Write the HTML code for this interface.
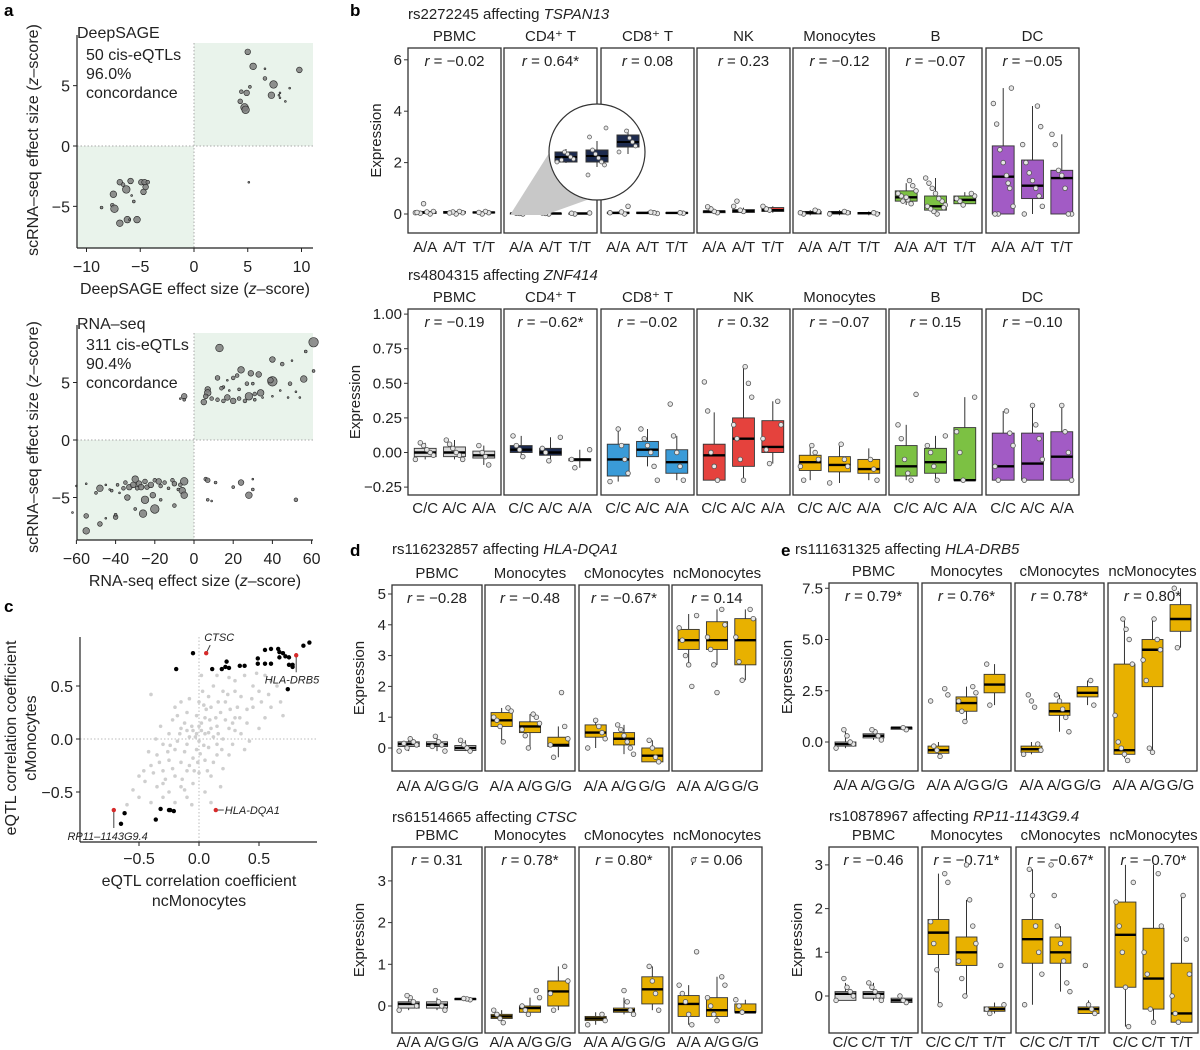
<!DOCTYPE html>
<html><head><meta charset="utf-8"><style>
html,body{margin:0;padding:0;background:#fff}
svg{display:block;font-family:"Liberation Sans",sans-serif}
</style></head><body>
<svg id="fig" width="1200" height="1050" viewBox="0 0 1200 1050" xmlns="http://www.w3.org/2000/svg"></svg>
<script>
const NS="http://www.w3.org/2000/svg";
const svg=document.getElementById('fig');

// ---------- Panel a data: [x, y, size] ----------
const aTopPts=[[5,7.8,3],[5.5,6.6,3.5],[6.6,6.4,1],[9.8,6.3,3],[6.6,5.6,2],[7.4,5.1,4],[5.2,4.9,1.5],[8.9,4.8,1],[4.4,4.5,2],[4.9,4.4,3],[7.2,4.2,3.5],[8,4.4,1],[8,4,1],[4.3,3.7,2.5],[8.5,3.7,1],[4.7,3.2,4],[4.8,3,4],[7.9,4.2,1],
[-6.9,-3,3],[-6.6,-3.2,2],[-5.9,-2.9,3],[-4.9,-3,3],[-4.6,-3,3],[-4.3,-3,2],[-4.5,-3.4,3],[-7.5,-4,3.5],[-6.3,-3.6,4],[-5.8,-4.1,1],[-4.7,-3.8,3],[-5.6,-4.6,1.5],[-8.6,-5.1,1.5],[-7.6,-4.9,2],[-7.4,-5.2,4],[-6.2,-6.1,3.5],[-5.3,-6.1,3.5],[-6.9,-6.4,3.5],[-6,-6.1,1],[5.1,-3,1]];
const aBotPts=[[13,8,4],[61,8.5,5],[57,7.7,1.5],[40,7,3],[45,6.6,2],[50,6.9,1],[61,6,1.5],[24,6.1,3.5],[29,5.8,3],[33,5.7,3],[12,5.4,2.5],[20,5.4,2],[22,5.6,2],[17,5.2,1],[40,5.1,5],[39,5.2,3],[49,4.9,2],[56,5.3,3.5],[15,4.6,1.5],[27,4.9,2],[30,4.9,1.5],[7,4.4,3],[7,4.1,3.5],[14,4.5,2],[18,4.3,1],[23,4.4,1.5],[34,4.1,3.5],[31,4,2],[44,4.3,1],[52,4.2,1],[6,3.8,2.5],[9,3.6,2],[12,3.5,2],[17,3.7,3],[20,3.4,3],[23,3.6,2],[26,3.4,2],[28,3.8,4],[31,3.5,1.5],[35,3.7,1],[5,3.3,3],[15,3.4,2],[40,3.8,1],[48,3.7,1],[54,3.7,1],[-5,3.8,3],[-5,3.5,1.5],[-7,3.6,1],
[-55,-3.8,1],[-60,-4,1],[-50,-4.6,1.5],[-48,-4.2,3.5],[-45,-3.9,1],[-42,-4.4,1.5],[-38,-4.6,1],[-36,-4.2,2],[-35,-3.7,2],[-33,-4.1,3],[-31,-3.9,3],[-30,-3.4,3.5],[-28,-3.8,3],[-27,-4.1,3],[-25,-3.6,2.5],[-24,-4.1,2.5],[-22,-3.9,3],[-20,-3.5,2],[-18,-3.6,3],[-17,-4,2],[-15,-3.7,2],[-13,-4.2,1.5],[-11,-3.5,2],[-10,-3.8,2.5],[-8,-4.3,1.5],[-6,-4.4,3.5],[-5,-3.6,4],[-5,-4.8,3.5],[-7,-3.9,2],[-10,-5.7,2],[-17,-5.2,1.5],[-21,-4.8,3],[-25,-5.2,4],[-20,-6,4.5],[-26,-6.4,4],[-30,-6,1.5],[-34,-5,3],[-40,-6.7,2.5],[-40,-6.5,1.5],[-45,-6.8,1],[-48,-7.3,2.5],[-55,-6.6,2.5],[-55,-7.9,3.5],[-62,-6.3,1],[-43,-4.3,1],[-39,-3.9,1.5],[-29,-4.2,2],
[6,-3.4,2],[7,-3.5,2.5],[11,-3.7,1.5],[20,-4.1,1.5],[24,-3.7,3],[30,-3.4,1],[30,-4.3,1.5],[28,-4.8,3.5],[7,-5.2,1.5],[52,-5.2,2],[9,-5.3,1]];

// ---------- Panel c data ----------
const cBlack=[[-0.05,0.81],[-0.19,0.66],[0.11,0.66],[0.19,0.66],[0.23,0.73],[0.22,0.68],[0.25,0.67],[0.34,0.69],[0.38,0.69],[0.49,0.76],[0.49,0.71],[0.55,0.84],[0.60,0.85],[0.55,0.71],[0.60,0.71],[0.66,0.85],[0.67,0.82],[0.70,0.81],[0.72,0.78],[0.75,0.77],[0.67,0.77],[0.75,0.70],[0.78,0.68],[0.78,0.70],[0.74,0.47],[0.87,0.88],[0.92,0.91],[-0.62,-0.70],[-0.65,-0.80],[-0.36,-0.76],[-0.32,-0.66],[-0.25,-0.67],[-0.21,-0.68],[-0.24,-0.67]];
const cRed=[[0.06,0.81],[0.81,0.79],[-0.71,-0.67],[0.14,-0.67]];
const cGrey=[[-0.4,0.42],[-0.2,0.3],[-0.1,0.25],[0,0.35],[0.05,0.2],[0.1,0.3],[0.2,0.45],[0.3,0.55],[0.35,0.4],[0.45,0.3],[0.5,0.45],[0.55,0.6],[0.6,0.3],[0.65,0.5],[0.7,0.22],[0.4,0.15],[0.3,0.2],[0.25,0.1],[0.15,0.12],[0.05,0.05],[-0.05,0.08],[-0.15,0.1],[-0.25,0.05],[-0.3,-0.05],[-0.2,-0.1],[-0.1,-0.05],[0,-0.02],[0.08,-0.08],[0.12,0.02],[0.2,0],[0.28,-0.05],[0.35,0.05],[0.42,-0.02],[0.5,0.1],[0.15,-0.15],[0.05,-0.2],[-0.05,-0.18],[-0.15,-0.22],[-0.25,-0.2],[-0.35,-0.15],[-0.4,-0.25],[-0.3,-0.3],[-0.2,-0.35],[-0.1,-0.3],[0,-0.32],[0.1,-0.35],[0.2,-0.28],[-0.45,-0.4],[-0.35,-0.45],[-0.25,-0.5],[-0.15,-0.45],[-0.05,-0.42],[0.05,-0.5],[-0.5,-0.55],[-0.55,-0.48],[-0.4,-0.6],[-0.3,-0.55],[-0.1,-0.55],[0.1,-0.6],[-0.6,-0.62],[0.02,0.15],[-0.02,-0.1],[0.03,0.45],[-0.08,0.38],[0.18,0.25],[0.22,0.35],[0.12,0.5],[-0.12,0.15],[-0.22,0.18],[-0.32,0.12],[0.32,0.3],[0.45,0.5],[0.55,0.2],[0.38,0.6],[0.25,0.58],[-0.02,0.22],[0.07,-0.3],[-0.08,-0.25],[0.15,-0.05],[-0.18,-0.02],[0.28,0.15],[0.02,0.08],[-0.03,0.02],[0.09,0.18],[-0.28,-0.38],[-0.38,-0.32],[0.18,-0.45],[0.25,-0.15],[0.6,0.55],[0.48,0.62],
[-0.06,0.12],[0.04,-0.06],[-0.12,-0.12],[0.1,0.1],[-0.04,-0.3],[0.06,0.28],[-0.16,0.05],[0.14,0.2],[-0.22,-0.28],[0.22,0.18],[-0.08,0.02],[0.0,0.12],[0.08,0.4],[-0.14,-0.38],[0.16,0.05],[-0.26,-0.12],[0.3,0.08],[-0.33,-0.22],[0.26,0.28],[-0.01,-0.22],[0.12,-0.22],[-0.18,0.22],[0.4,0.28],[0.04,0.32],[-0.1,0.08],[0.19,-0.1],[-0.24,-0.06],[0.34,0.2],[-0.42,-0.12],[0.08,0.06],[-0.02,0.05],[0.01,-0.14],[0.16,0.35],[-0.3,-0.42],[0.24,0.42],[-0.46,-0.3],[0.44,0.38],[-0.12,-0.48],[0.02,0.6],[0.15,0.6],[-0.5,-0.35],[0.52,0.35],[-0.2,-0.6],[0.58,0.42],[0.68,0.35],[-0.36,0.0],[0.38,-0.1],[-0.06,-0.62],[0.3,0.45],[-0.15,0.35]];

// ---------- Box plot data: [lo, q1, median, q3, hi] per genotype ----------
const bTopCells=["PBMC","CD4⁺ T","CD8⁺ T","NK","Monocytes","B","DC"];
const bTopR=["−0.02","0.64*","0.08","0.23","−0.12","−0.07","−0.05"];
const bTopGeno=["A/A","A/T","T/T"];
const bTopStats=[
 [[0,.02,.06,.1,.15],[0,.03,.06,.1,.15],[.02,.04,.06,.08,.12]],
 [[0,0,.02,.03,.05],[0,0,.02,.03,.05],[0,0,.02,.03,.05]],
 [[0,.02,.04,.07,.1],[0,.02,.04,.07,.1],[0,.02,.04,.06,.08]],
 [[0,.05,.1,.12,.2],[0,.06,.12,.17,.25],[.05,.1,.15,.25,.3]],
 [[-.05,0,.05,.1,.15],[-.05,0,.05,.1,.15],[-.05,0,.03,.06,.1]],
 [[.35,.5,.65,.9,1.2],[0,.15,.3,.7,1.4],[.35,.4,.55,.7,.85]],
 [[0,0,1.45,2.65,4.9],[0,.6,1.1,2.1,4.2],[0,0,1.4,1.7,3.1]]];
const bTopPts=[
 [[.05,.1,0,.08,.4,.03,.06],[.05,.1,0,.08,.04],[.05,.1,0,.06]],
 [[0,.02,.03],[0,.02,.04],[0,.03,.04]],
 [[.05,.3,0,.08],[.02,.05,.07],[.03,.05]],
 [[.05,.1,.2,.28],[.1,.15,.5,.3],[.15,.2,.3]],
 [[0,.05,.1,.15],[0,.05,.1],[0,.05]],
 [[.4,.55,.6,.7,.8,.9,1.1,1.3,.65,.5],[0,.1,.2,.3,.35,.5,.6,.8,1,1.2,1.4,.25],[.35,.5,.6,.7,.8]],
 [[0,0,.3,1,1.5,2,2.5,3.5,4.3,4.9,1.2],[0,.3,.7,1,1.3,1.6,2,2.7,3.4,4.2],[0,0,1,1.5,1.7,2.7,3.1]]];
const bTopColors=["#d9d9d9","#1d2b4f","#3a9bd8","#e5423d","#eeb200","#7cc143","#a25bc5"];

const bBotR=["−0.19","−0.62*","−0.02","0.32","−0.07","0.15","−0.10"];
const bBotGeno=["C/C","A/C","A/A"];
const bBotStats=[
 [[-.05,-.03,0,.03,.07],[-.05,-.03,0,.04,.09],[-.09,-.04,-.02,.01,.05]],
 [[-.03,0,.02,.05,.12],[-.06,-.02,0,.03,.11],[-.11,-.06,-.05,-.045,.02]],
 [[-.21,-.17,-.05,.06,.17],[-.1,-.03,.02,.08,.17],[-.2,-.15,-.07,.02,.12]],
 [[-.2,-.2,-.02,.06,.29],[-.2,-.1,.1,.25,.62],[-.08,0,.04,.23,.37]],
 [[-.2,-.13,-.07,-.02,.05],[-.22,-.14,-.09,-.03,.06],[-.2,-.15,-.12,-.05,.03]],
 [[-.2,-.17,-.1,.05,.2],[-.2,-.15,-.07,.03,.12],[-.2,-.2,-.2,.18,.4]],
 [[-.2,-.2,-.1,.14,.3],[-.2,-.2,-.08,.14,.34],[-.2,-.2,-.03,.15,.34]]];
const bBotPts=[
 [[-.05,-.02,0,.02,.05,.07],[-.05,-.02,0,.03,.06,.09],[-.09,-.03,0,.05]],
 [[-.03,.02,.05,.12],[-.06,0,.03,.11],[-.11,-.05,.02]],
 [[-.21,-.15,-.05,.05,.17],[-.2,-.1,0,.05,.1,.17],[-.2,-.1,0,.12,.35]],
 [[-.2,-.1,0,.3,.51],[-.2,-.05,.1,.2,.4,.5,.62],[-.08,.02,.1,.2,.37]],
 [[-.2,-.1,-.05,0,.05],[-.22,-.1,-.05,.06],[-.2,-.12,-.05]],
 [[-.2,-.15,-.05,.1,.2,.42],[-.2,-.1,0,.05,.12],[-.2,0,.15,.4]],
 [[-.2,-.1,.05,.14,.3],[-.2,-.05,.1,.2,.34],[-.2,0,.15,.34]]];

const dCells=["PBMC","Monocytes","cMonocytes","ncMonocytes"];
const dGeno=["A/A","A/G","G/G"];
const dTopR=["−0.28","−0.48","−0.67*","0.14"];
const dTopStats=[
 [[-.1,.05,.13,.2,.35],[-.1,.05,.12,.2,.38],[-.1,-.08,0,.08,.25]],
 [[.2,.7,.9,1.15,1.3],[0,.5,.7,.85,1.1],[-.3,.05,.1,.35,.7]],
 [[0,.35,.5,.75,.9],[-.2,.1,.3,.5,.75],[-.45,-.45,-.25,0,.25]],
 [[2.65,3.2,3.5,3.85,4.35],[2.7,3.2,3.5,4.1,4.5],[2.2,2.7,3.5,4.2,4.5]]];
const dTopPts=[
 [[-.1,.1,.2,.3,0,.15],[-.1,.1,.2,.38,.05],[-.1,0,.1,.25]],
 [[.2,.7,.9,1,1.2,1.3],[0,.4,.6,.8,1,1.1],[-.3,.1,.3,.7,1.8]],
 [[0,.3,.5,.7,.9],[-.2,0,.2,.4,.6,.75],[-.45,-.3,0,.25]],
 [[2,2.7,3,3.5,3.9,4.3],[1.8,2.7,3.2,3.6,4,4.5],[2.2,2.8,3.6,4.2,4.5]]];
const dBotR=["0.31","0.78*","0.80*","0.06"];
const dBotStats=[
 [[-.1,-.05,.05,.1,.25],[-.1,-.05,.03,.1,.2],[.15,.15,.17,.18,.19]],
 [[-.4,-.3,-.25,-.2,-.1],[-.2,-.15,-.05,0,.2],[-.1,0,.35,.6,.95]],
 [[-.45,-.35,-.3,-.25,-.15],[-.2,-.15,-.1,-.05,.2],[-.1,.05,.4,.7,.95]],
 [[-.45,-.25,.05,.25,.5],[-.35,-.25,-.1,.2,.7],[-.15,-.15,-.15,.05,.15]]];
const dBotPts=[
 [[-.1,0,.1,.2,.25],[-.1,0,.1,.37],[.15,.17,.18]],
 [[-.4,-.3,-.2,-.1],[-.2,-.1,0,.2,.37],[-.1,.3,.6,.95]],
 [[-.45,-.35,-.2],[-.2,-.1,.1,.37],[-.1,.3,.6,.95]],
 [[-.45,-.2,.1,.3,.5,1.3,3.5],[-.35,-.2,0,.2,.5,.7],[-.15,0,.15]]];

const eTopR=["0.79*","0.76*","0.78*","0.80*"];
const eTopStats=[
 [[-.3,-.2,-.1,0,.6],[.1,.2,.3,.4,.6],[.6,.62,.7,.72,.75]],
 [[-.7,-.55,-.4,-.2,0],[1,1.5,1.9,2.2,2.7],[1.8,2.4,2.8,3.3,3.8]],
 [[-.6,-.5,-.35,-.2,0],[.5,1.3,1.5,1.9,2.3],[1.8,2.2,2.4,2.7,3]],
 [[-.8,-.6,-.4,3.8,6],[-.5,2.7,4.5,5,6],[4.6,5.4,6,6.7,7.5]]];
const eTopPts=[
 [[-.3,-.1,0,.3,.6],[.1,.3,.5,.6],[.6,.7]],
 [[-.7,-.4,-.2,2,2.3,2.6],[1,1.5,2,2.4,2.7],[1.8,3.8]],
 [[-.6,-.4,-.1,1.7,2,2.3],[.5,1.2,1.6,2,2.3],[1.8,3]],
 [[-.9,-.6,-.3,0,1.3,3.8,5,5.5,6],[-.5,-.3,3,4,4.5,5,6],[4.6,7.5]]];
const eGeno=["C/C","C/T","T/T"];
const eBotR=["−0.46","−0.71*","−0.67*","−0.70*"];
const eBotStats=[
 [[-.1,-.1,.05,.1,.3],[-.1,-.05,.05,.1,.3],[-.15,-.15,-.1,-.05,0]],
 [[-.2,.95,1.45,1.75,2.8],[0,.7,1,1.35,2.2],[-.4,-.35,-.3,-.25,-.15]],
 [[-.2,.75,1.3,1.75,2.9],[.1,.75,1,1.35,1.6],[-.4,-.4,-.3,-.25,-.1]],
 [[-.7,.2,1.4,2.15,3],[-.6,-.3,.4,1.55,3],[-.6,-.6,-.4,.75,2.3]]];
const eBotPts=[
 [[-.1,0,.1,.2,.4],[-.1,0,.1,.2,.3],[-.15,-.1,0]],
 [[-.2,.6,1.2,1.7,2.6,2.8],[0,.4,.8,1.2,1.6,2.2,3],[-.4,-.3,-.2,.7]],
 [[-.2,.5,1,1.6,2.3,2.9],[.1,.3,.8,1.2,1.6,2.3,3],[-.4,-.3,-.2,.7]],
 [[-.7,.2,1,1.6,2.15,2.6],[-.6,-.3,.5,1,1.6,2.8],[-.6,-.4,0,.5,1.3,2.3]]];

// ---------- helpers ----------
function mk(tag,attrs,parent){const e=document.createElementNS(NS,tag);for(const k in attrs)e.setAttribute(k,attrs[k]);(parent||svg).appendChild(e);return e;}
function txt(s,x,y,opt,parent){opt=opt||{};const e=mk('text',{x:x,y:y,'font-size':opt.fs||15,'text-anchor':opt.anchor||'start',fill:opt.fill||'#222'},parent);
 if(opt.weight)e.setAttribute('font-weight',opt.weight);if(opt.italic)e.setAttribute('font-style','italic');
 if(opt.rot)e.setAttribute('transform','rotate(-90 '+x+' '+y+')');e.textContent=s;return e;}
function richTitle(a,b,x,y,name){const t=mk('text',{x:x,y:y,'font-size':15,fill:'#222'});
 const s1=mk('tspan',{},t);s1.textContent=a;const s2=mk('tspan',{'font-style':'italic'},t);s2.textContent=b;}
function rLabel(val,x,y,g){const t=mk('text',{x:x,y:y,'font-size':15,'text-anchor':'middle',fill:'#222'},g);
 const a=mk('tspan',{'font-style':'italic'},t);a.textContent='r';const b=mk('tspan',{},t);b.textContent=' = '+val;
 }

// ---------- panel letters ----------
[['a',4,16],['b',350,16],['c',4,612],['d',350,556],['e',781,556]].forEach(p=>{const t=txt(p[0],p[1],p[2],{fs:17,weight:'bold',fill:'#000'});
 });

// ---------- scatter panels a ----------
function scatterA(cfg){
 const g=mk('g',{});
 const X=v=>cfg.x0+cfg.sx*v, Y=v=>cfg.y0-cfg.sy*v;
 mk('rect',{x:X(0),y:cfg.top,width:cfg.right-X(0),height:Y(0)-cfg.top,fill:'#e9f3eb'},g);
 mk('rect',{x:cfg.left,y:Y(0),width:X(0)-cfg.left,height:cfg.bottom-Y(0),fill:'#e9f3eb'},g);
 mk('line',{x1:X(0),x2:X(0),y1:cfg.top,y2:cfg.bottom,stroke:'#aaa','stroke-dasharray':'1.5,2'},g);
 mk('line',{x1:cfg.left,x2:cfg.right,y1:Y(0),y2:Y(0),stroke:'#aaa','stroke-dasharray':'1.5,2'},g);
 cfg.pts.forEach(p=>{const c=mk('circle',{cx:X(p[0]),cy:Y(p[1]),r:p[2]*0.95,fill:'#7d7d7d','fill-opacity':0.85,stroke:'#222','stroke-width':0.6},g);
  });
 mk('line',{x1:cfg.left,x2:cfg.left,y1:cfg.top-8,y2:cfg.bottom,stroke:'#222','stroke-width':1.2},g);
 mk('line',{x1:cfg.left,x2:cfg.right,y1:cfg.bottom,y2:cfg.bottom,stroke:'#222','stroke-width':1.2},g);
 cfg.xt.forEach((v,i)=>{mk('line',{x1:X(v),x2:X(v),y1:cfg.bottom,y2:cfg.bottom+4,stroke:'#222'},g);
  const t=txt(cfg.xl[i],X(v),cfg.bottom+24,{anchor:'middle',fs:16},g);});
 cfg.yt.forEach((v,i)=>{mk('line',{x1:cfg.left-4,x2:cfg.left,y1:Y(v),y2:Y(v),stroke:'#222'},g);
  const t=txt(cfg.yl[i],cfg.left-7,Y(v)+6,{anchor:'end',fs:16},g);});
 let t=txt(cfg.title,cfg.left,cfg.titleY,{fs:16},g);
 cfg.lines.forEach((s,i)=>{const u=txt(s,86,cfg.top+17+i*19,{fs:16},g);});
 const xt=mk('text',{x:(cfg.left+cfg.right)/2,y:cfg.bottom+46,'font-size':16,'text-anchor':'middle',fill:'#222'},g);
 
 mk('tspan',{},xt).textContent=cfg.xtitle+' (';mk('tspan',{'font-style':'italic'},xt).textContent='z';mk('tspan',{},xt).textContent='–score)';
 const yt=mk('text',{x:38,y:cfg.ymid,'font-size':16,'text-anchor':'middle',fill:'#222',transform:'rotate(-90 38 '+cfg.ymid+')'},g);
 
 mk('tspan',{},yt).textContent='scRNA–seq effect size (';mk('tspan',{'font-style':'italic'},yt).textContent='z';mk('tspan',{},yt).textContent='–score)';
}
scatterA({name:'deepsage-scatter',x0:194,sx:10.75,y0:146,sy:12.07,left:77,right:313,top:43,bottom:248,pts:aTopPts,
 xt:[-10,-5,0,5,10],xl:['−10','−5','0','5','10'],yt:[-5,0,5],yl:['−5','0','5'],title:'DeepSAGE',titleY:38,
 lines:['50 cis-eQTLs','96.0%','concordance'],xtitle:'DeepSAGE effect size',ymid:140});
scatterA({name:'rnaseq-scatter',x0:194,sx:1.96,y0:440,sy:11.5,left:77,right:313,top:333,bottom:540,pts:aBotPts,
 xt:[-60,-40,-20,0,20,40,60],xl:['−60','−40','−20','0','20','40','60'],yt:[-5,0,5],yl:['−5','0','5'],title:'RNA–seq',titleY:329,
 lines:['311 cis-eQTLs','90.4%','concordance'],xtitle:'RNA-seq effect size',ymid:437});

// ---------- panel c ----------
(function(){
 const g=mk('g',{});
 const X=v=>199+120*v, Y=v=>739-106*v;
 mk('line',{x1:X(0),x2:X(0),y1:637,y2:842,stroke:'#bbb','stroke-dasharray':'1.5,2'},g);
 mk('line',{x1:80,x2:317,y1:Y(0),y2:Y(0),stroke:'#bbb','stroke-dasharray':'1.5,2'},g);
 cGrey.forEach(p=>{const c=mk('circle',{cx:X(p[0]),cy:Y(p[1]),r:1.8,fill:'#cfcfcf'},g);});
 cBlack.forEach(p=>{const c=mk('circle',{cx:X(p[0]),cy:Y(p[1]),r:2.2,fill:'#000'},g);});
 mk('line',{x1:X(cRed[0][0]),y1:Y(cRed[0][1]),x2:X(cRed[0][0])+4,y2:Y(cRed[0][1])-8,stroke:'#444'},g);
 mk('line',{x1:X(cRed[1][0]),y1:Y(cRed[1][1]),x2:X(cRed[1][0]),y2:Y(cRed[1][1])+17,stroke:'#444'},g);
 mk('line',{x1:X(cRed[2][0]),y1:Y(cRed[2][1]),x2:X(cRed[2][0]),y2:Y(cRed[2][1])+18,stroke:'#444'},g);
 mk('line',{x1:X(cRed[3][0]),y1:Y(cRed[3][1]),x2:X(cRed[3][0])+8,y2:Y(cRed[3][1]),stroke:'#444'},g);
 cRed.forEach(p=>{const c=mk('circle',{cx:X(p[0]),cy:Y(p[1]),r:2.2,fill:'#d62a2a'},g);});
 const labs=[['CTSC',X(cRed[0][0])-2,Y(cRed[0][1])-12,'start'],['HLA-DRB5',X(cRed[1][0])+23,Y(cRed[1][1])+28,'end'],['RP11–1143G9.4',X(cRed[2][0])+34,Y(cRed[2][1])+30,'end'],['HLA-DQA1',X(cRed[3][0])+9,Y(cRed[3][1])+4,'start']];
 labs.forEach(l=>{const t=txt(l[0],l[1],l[2],{fs:11,italic:true,anchor:l[3]},g);});
 mk('line',{x1:80,x2:80,y1:637,y2:842,stroke:'#222','stroke-width':1.2},g);
 mk('line',{x1:80,x2:317,y1:842,y2:842,stroke:'#222','stroke-width':1.2},g);
 [[-0.5,'−0.5'],[0,'0.0'],[0.5,'0.5']].forEach(v=>{mk('line',{x1:X(v[0]),x2:X(v[0]),y1:842,y2:846,stroke:'#222'},g);
  const t=txt(v[1],X(v[0]),864,{anchor:'middle',fs:16},g);
  mk('line',{x1:76,x2:80,y1:Y(v[0]),y2:Y(v[0]),stroke:'#222'},g);
  const u=txt(v[1],73,Y(v[0])+6,{anchor:'end',fs:16},g);});
 let t=txt('eQTL correlation coefficient',199,886,{anchor:'middle',fs:16},g);
 t=txt('ncMonocytes',199,906,{anchor:'middle',fs:16},g);
 t=txt('eQTL correlation coefficient',16,738,{anchor:'middle',fs:16,rot:true},g);
 t=txt('cMonocytes',36,738,{anchor:'middle',fs:16,rot:true},g);
})();

// ---------- box plot facet panel ----------
function boxPanel(c){
 const g=mk('g',{});
 const Y=v=>c.y0-c.sy*v;
 richTitle(c.t1,c.t2,c.tx,c.ty,'panel-title');
 c.cells.forEach((cell,f)=>{
  const L=c.lefts[f],W=c.w;
  const fg=mk('g',{},g);
  const ft=txt(cell,L+W/2,c.top-7,{anchor:'middle'},fg);
  rLabel(c.r[f],L+W/2,c.top+18,fg);
  c.stats[f].forEach((s,i)=>{
   const cx=L+W*(0.185+0.315*i),bw=W*0.235;
   const col=Array.isArray(c.color)?c.color[f]:(f===0?'#d9d9d9':c.color);
   const bg=mk('g',{},fg);
   mk('line',{x1:cx,x2:cx,y1:Y(s[0]),y2:Y(s[4]),stroke:'#333','stroke-width':1},bg);
   mk('rect',{x:cx-bw/2,y:Y(s[3]),width:bw,height:Math.max(1,Y(s[1])-Y(s[3])),fill:col,stroke:'#333','stroke-width':0.9},bg);
   mk('line',{x1:cx-bw/2,x2:cx+bw/2,y1:Y(s[2]),y2:Y(s[2]),stroke:'#000','stroke-width':2.4},bg);
   (c.pts[f][i]||[]).forEach((v,k)=>{const jx=(((k*37+i*11+f*7)%13)-6)/6*bw*0.45;
    const p=mk('circle',{cx:cx+jx,cy:Y(v),r:2.3,fill:'#e6e6e6',stroke:'#555','stroke-width':0.8},bg);
    });
   const xl=txt(c.geno[i],cx,c.labY,{anchor:'middle'},fg);
  });
  const fr=mk('rect',{x:L,y:c.top,width:W,height:c.bottom-c.top,fill:'none',stroke:'#333','stroke-width':1.3},fg);
  
 });
 c.yt.forEach((v,i)=>{mk('line',{x1:c.lefts[0]-4,x2:c.lefts[0],y1:Y(v),y2:Y(v),stroke:'#333'},g);
  const t=txt(c.yl[i],c.lefts[0]-6,Y(v)+5,{anchor:'end'},g);});
 const yt=txt('Expression',c.ytx,(c.top+c.bottom)/2,{anchor:'middle',rot:true},g);
}
const bLefts=[408,504,601,697,793,889,986];
boxPanel({name:'tspan13-boxplots',t1:'rs2272245 affecting ',t2:'TSPAN13',tx:408,ty:19,cells:bTopCells,lefts:bLefts,w:93,top:48,bottom:233,
 y0:214,sy:25.7,r:bTopR,geno:bTopGeno,stats:bTopStats,pts:bTopPts,color:bTopColors,labY:252,yt:[0,2,4,6],yl:['0','2','4','6'],ytx:381});
(function(){
 const g=mk('g',{});
 const insetStats=[[.9,1,1.5,2,2.3],[.5,1,1.6,2.2,3.1],[1.8,2.5,3,3.7,4.3]];
 const insetPts=[[1,1.3,1.5,1.8,2,1.2],[-.3,.7,1,1.4,1.8,2.2,3.5,4.4],[2,2.6,3,3.4,4.1]];
 const Y=v=>172-10*v;
 mk('polygon',{points:'510,215 551,150 598,196 545,215',fill:'#c8c8c8'},g);
 mk('circle',{cx:597,cy:152,r:48,fill:'#fff',stroke:'#333','stroke-width':1.2},g);
 insetStats.forEach((s,i)=>{const cx=566+31*i,bw=22;
  mk('line',{x1:cx,x2:cx,y1:Y(s[0]),y2:Y(s[4]),stroke:'#333'},g);
  mk('rect',{x:cx-bw/2,y:Y(s[3]),width:bw,height:Y(s[1])-Y(s[3]),fill:'#1d2b4f',stroke:'#333'},g);
  mk('line',{x1:cx-bw/2,x2:cx+bw/2,y1:Y(s[2]),y2:Y(s[2]),stroke:'#000','stroke-width':2},g);
  insetPts[i].forEach((v,k)=>{const p=mk('circle',{cx:cx+(((k*37)%13)-6)/6*9,cy:Y(v),r:2,fill:'#e6e6e6',stroke:'#555','stroke-width':0.7},g);
   });
 });
})();
boxPanel({name:'znf414-boxplots',t1:'rs4804315 affecting ',t2:'ZNF414',tx:408,ty:280,cells:bTopCells,lefts:bLefts,w:93,top:309,bottom:495,
 y0:452.5,sy:138.4,r:bBotR,geno:bBotGeno,stats:bBotStats,pts:bBotPts,color:bTopColors,labY:513,yt:[-0.25,0,0.25,0.5,0.75,1],yl:['−0.25','0.00','0.25','0.50','0.75','1.00'],ytx:360});
boxPanel({name:'hla-dqa1-boxplots',t1:'rs116232857 affecting ',t2:'HLA-DQA1',tx:392,ty:554,cells:dCells,lefts:[392,485,579,672],w:90,top:585,bottom:771,
 y0:748,sy:30.8,r:dTopR,geno:dGeno,stats:dTopStats,pts:dTopPts,color:'#e8b100',labY:791,yt:[0,1,2,3,4,5],yl:['0','1','2','3','4','5'],ytx:364});
boxPanel({name:'ctsc-boxplots',t1:'rs61514665 affecting ',t2:'CTSC',tx:392,ty:822,cells:dCells,lefts:[392,485,579,672],w:90,top:847,bottom:1033,
 y0:1006,sy:41.7,r:dBotR,geno:dGeno,stats:dBotStats,pts:dBotPts,color:'#e8b100',labY:1047,yt:[0,1,2,3],yl:['0','1','2','3'],ytx:364});
boxPanel({name:'hla-drb5-boxplots',t1:'rs111631325 affecting ',t2:'HLA-DRB5',tx:795,ty:554,cells:dCells,lefts:[829,922,1015,1108],w:89,top:583,bottom:771,
 y0:742,sy:20.5,r:eTopR,geno:dGeno,stats:eTopStats,pts:eTopPts,color:'#e8b100',labY:790,yt:[0,2.5,5,7.5],yl:['0.0','2.5','5.0','7.5'],ytx:792});
boxPanel({name:'rp11-boxplots',t1:'rs10878967 affecting ',t2:'RP11-1143G9.4',tx:829,ty:821,cells:dCells,lefts:[829,922,1016,1109],w:89,top:847,bottom:1033,
 y0:996,sy:43.7,r:eBotR,geno:eGeno,stats:eBotStats,pts:eBotPts,color:'#e8b100',labY:1047,yt:[0,1,2,3],yl:['0','1','2','3'],ytx:802});
</script>
</body></html>
